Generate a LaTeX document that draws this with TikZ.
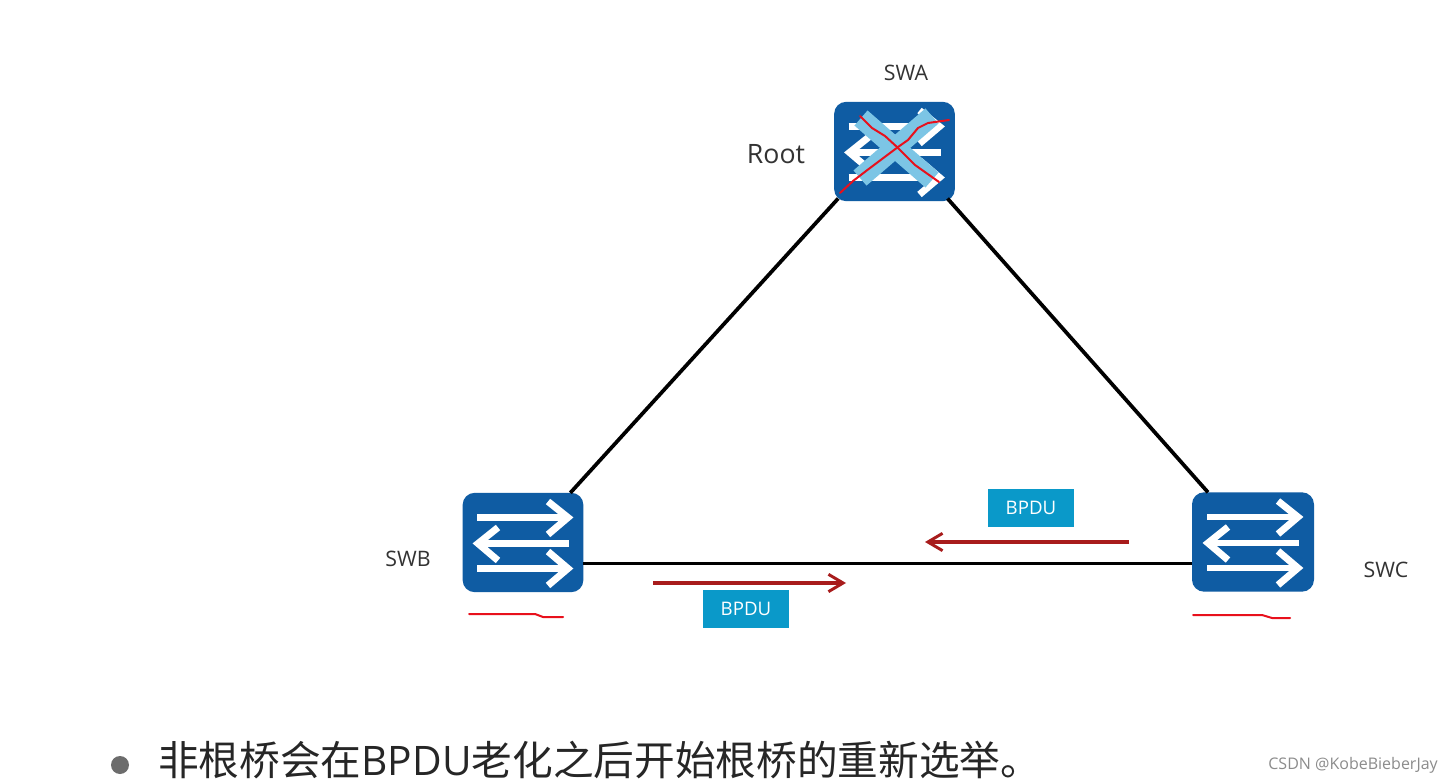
\documentclass[tikz,border=0pt]{standalone}
\usepackage{fontspec}
\setmainfont{Open Sans}
\newfontfamily\cjk{Noto Sans CJK SC}
\usetikzlibrary{arrows.meta}
\definecolor{swblue}{HTML}{0F5CA3}
\definecolor{xblue}{HTML}{7CC5E5}
\definecolor{bpdublue}{HTML}{0A99C9}
\definecolor{darkred}{HTML}{A81C1C}
\definecolor{inkred}{HTML}{E8101C}
\definecolor{labelgray}{HTML}{333333}
\tikzset{
  x=0.75pt,y=-0.75pt,
  switch/.style={draw=none,fill=swblue,rounded corners=9pt,minimum width=90.5pt,minimum height=74.5pt,inner sep=0pt,outer sep=0pt},
  icon/.style={draw=white,line width=5.2pt,line cap=butt,line join=miter},
  link/.style={draw=black,line width=2.8pt},
  lab/.style={text=labelgray,font=\fontsize{16}{18}\selectfont,inner sep=0pt},
  bpdu/.style={fill=bpdublue,text=white,font=\fontsize{14}{16}\selectfont,minimum width=64.5pt,minimum height=28.5pt,inner sep=0pt},
  flow/.style={draw=darkred,line width=2.4pt,-{Straight Barb[length=11pt,width=13pt,line width=2.2pt]}},
  ink/.style={draw=inkred,line width=1.5pt,line cap=round,line join=round},
  cross/.style={draw=xblue,line width=15pt},
  pics/swicon/.style={code={
    \draw[icon] (-46,-25) -- (44,-25);
    \draw[icon] (25,-41) -- (45,-25) -- (25,-8);
    \draw[icon] (46,1) -- (-44,1);
    \draw[icon] (-25,-15) -- (-45,1) -- (-25,18);
    \draw[icon] (-46,26) -- (44,26);
    \draw[icon] (25,9) -- (45,26) -- (25,43);
  }}
}
\begin{document}
\begin{tikzpicture}
\useasboundingbox (0,0) rectangle (1454,784);
\fill[white] (0,0) rectangle (1454,784);
\node[switch] (swa) at (894.5,151.5) {};
\node[switch] (swb) at (523,542.5) {};
\node[switch,minimum width=91.5pt] (swc) at (1253,542) {};
\begin{scope}[on background layer/.try]
\end{scope}
\draw[link] ([xshift=-9.75pt,yshift=0pt]swb.north east) -- ([xshift=3pt,yshift=2pt]swa.south west);
\draw[link] ([xshift=-5.5pt,yshift=2pt]swa.south east) -- ([xshift=12pt]swc.north west);
\draw[link] ([yshift=-15.75pt]swb.east) -- ([yshift=-15.75pt,xshift=0pt]swc.west |- swb.east);
\path (swb.center) pic {swicon};
\path (swc.center) pic {swicon};
\path (swa.center) pic {swicon};
\draw[cross] (861,118) -- (932,180);
\draw[cross] (932,116) -- (860,178);
\draw[ink] (860,116) -- (872,128) -- (885,136) -- (897,147) -- (915,165) -- (939,182);
\draw[ink] (840,193) -- (853,181) -- (870,168) -- (898,147) -- (908,140) -- (918,128) -- (928,123) -- (949,120);
\node[lab] (lswa) at (906,73) {SWA};
\node[lab,font=\fontsize{20}{22}\selectfont] (lroot) at (776,154) {Root};
\node[lab] (lswb) at (408,559) {SWB};
\node[lab] (lswc) at (1386,570) {SWC};
\node[bpdu] (b1) at (1031,508) {BPDU};
\node[bpdu] (b2) at (746,609) {BPDU};
\coordinate (f1s) at (1129,542);
\coordinate (f1e) at (925,542);
\coordinate (f2s) at (653,583);
\coordinate (f2e) at (846,583);
\draw[flow] (f1s) -- (f1e);
\draw[flow] (f2s) -- (f2e);
\draw[ink] (469,614) -- (535,614) -- (543,617) -- (563,617);
\draw[ink] (1193,615) -- (1262,615) -- (1272,618) -- (1290,618);
\fill[gray!85!black] (120,765) circle (9);
\node[anchor=base west,inner sep=0pt,text=black!85,font=\fontsize{30.5}{34}\selectfont] (cap) at (158,775) {{\cjk 非根桥会在}BPDU{\cjk 老化之后开始根桥的重新选举。}};
\node[anchor=east,inner sep=0pt,text=black!45,font=\fontsize{12}{14}\selectfont] (wm) at (1438,765) {CSDN @KobeBieberJay};
\end{tikzpicture}
\end{document}
